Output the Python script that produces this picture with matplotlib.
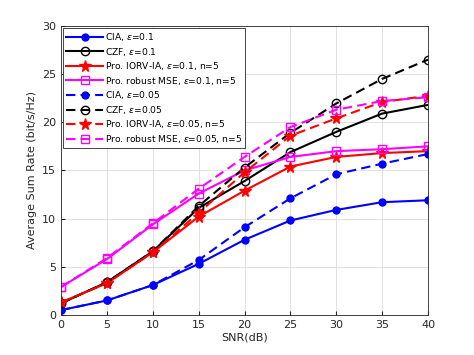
import numpy as np
import matplotlib.pyplot as plt

snr = [0, 5, 10, 15, 20, 25, 30, 35, 40]

cia_01 = [0.5, 1.5, 3.1, 5.3, 7.8, 9.8, 10.9, 11.7, 11.9]
czf_01 = [1.2, 3.4, 6.6, 11.1, 13.9, 16.9, 19.0, 20.9, 21.8]
iorv_01 = [1.3, 3.3, 6.5, 10.2, 12.9, 15.4, 16.4, 16.8, 17.0]
mse_01 = [2.9, 5.8, 9.4, 12.6, 15.0, 16.4, 17.0, 17.2, 17.5]

cia_005 = [0.5, 1.5, 3.1, 5.7, 9.1, 12.1, 14.6, 15.7, 16.7]
czf_005 = [1.2, 3.4, 6.6, 11.3, 15.3, 18.9, 21.95, 24.5, 26.5]
iorv_005 = [1.3, 3.3, 6.5, 10.6, 14.8, 18.6, 20.4, 22.1, 22.75]
mse_005 = [2.9, 5.9, 9.5, 13.1, 16.4, 19.5, 21.3, 22.2, 22.6]

fig = plt.figure(figsize=(4.74, 3.55), dpi=100)
ax = fig.add_axes([0.129, 0.113, 0.774, 0.814])

lw = 1.5
dash = (0, (4.5, 2.5))
ax.plot(snr, cia_01, '-', color='#0000ff', marker='o', ms=5, lw=lw, label=r'CIA, $\epsilon$=0.1')
ax.plot(snr, czf_01, '-', color='k', marker='o', mfc='none', ms=6, lw=lw, label=r'CZF, $\epsilon$=0.1')
ax.plot(snr, iorv_01, '-', color='#ff0000', marker='*', ms=8.5, lw=lw, label=r'Pro. IORV-IA, $\epsilon$=0.1, n=5')
ax.plot(snr, mse_01, '-', color='#ff00ff', marker='s', mfc='none', ms=6, lw=lw, label=r'Pro. robust MSE, $\epsilon$=0.1, n=5')
ax.plot(snr, cia_005, ls=dash, color='#0000ff', marker='o', ms=5, lw=lw, label=r'CIA, $\epsilon$=0.05')
ax.plot(snr, czf_005, ls=dash, color='k', marker='o', mfc='none', ms=6, lw=lw, label=r'CZF, $\epsilon$=0.05')
ax.plot(snr, iorv_005, ls=dash, color='#ff0000', marker='*', ms=8.5, lw=lw, label=r'Pro. IORV-IA, $\epsilon$=0.05, n=5')
ax.plot(snr, mse_005, ls=dash, color='#ff00ff', marker='s', mfc='none', ms=6, lw=lw, label=r'Pro. robust MSE, $\epsilon$=0.05, n=5')

ax.set_xlim(0, 40)
ax.set_ylim(0, 30)
ax.set_xticks(range(0, 41, 5))
ax.set_yticks(range(0, 31, 5))
ax.grid(True, color='#dcdcdc', lw=0.6)
ax.tick_params(direction='in', labelsize=8, length=3, colors='#262626')
for s in ax.spines.values():
    s.set_color('#262626')
    s.set_linewidth(0.6)
ax.set_xlabel('SNR(dB)', fontsize=8, color='#262626', labelpad=2)
ax.set_ylabel('Average Sum Rate (bit/s/Hz)', fontsize=8, color='#262626', labelpad=4)

leg = ax.legend(loc='upper left', fontsize=6.6, handlelength=4.0, handletextpad=0.2,
                labelspacing=0.28, borderpad=0.3, borderaxespad=0.25, fancybox=False,
                framealpha=1, edgecolor='#262626')
leg.get_frame().set_linewidth(0.6)

fig.savefig('out.png', dpi=100)
